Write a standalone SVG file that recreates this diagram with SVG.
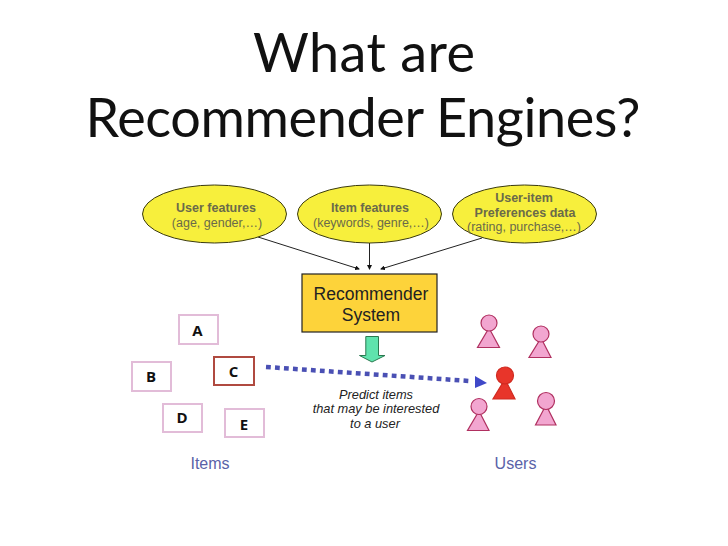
<svg xmlns="http://www.w3.org/2000/svg" width="728" height="546" viewBox="0 0 728 546">
<style>
.title{font:54px Lato,"Open Sans",sans-serif;fill:#111;text-anchor:middle}
.ell{fill:#f7ef3c;stroke:#3a3a10;stroke-width:1}
.h{font:bold 12.500px "Liberation Sans",Arial,sans-serif;fill:#6a6a4a;text-anchor:middle}
.s{font:12.500px "Liberation Sans",Arial,sans-serif;fill:#6a6a4a;text-anchor:middle}
.item{fill:#fff;stroke:#e2bcd8;stroke-width:2}
.l{font:bold 15px "Open Sans","DejaVu Sans",sans-serif;fill:#111;text-anchor:middle}
.p{fill:#f2a6d0;stroke:#b03060;stroke-width:1.200}
.r{fill:#e8352a;stroke:#d02a20;stroke-width:1.200}
.cap{font:16px "Liberation Sans",Arial,sans-serif;fill:#5a62a8;text-anchor:middle}
.pred{font:italic 12.800px "Liberation Sans",Arial,sans-serif;fill:#222;text-anchor:middle}
.c{stroke:#222;stroke-width:1;fill:none;marker-end:url(#a)}
.rs{font:17.500px "Liberation Sans",Arial,sans-serif;fill:#222;text-anchor:middle}
</style>
<defs><marker id="a" markerWidth="5" markerHeight="5" refX="4" refY="2.500" orient="auto" markerUnits="userSpaceOnUse"><path d="M0 0L5 2.500L0 5Z" fill="#111"/></marker></defs>
<rect width="728" height="546" fill="#fff"/>
<text class="title" x="364" y="72" textLength="222">What are</text>
<text class="title" x="363" y="137" textLength="555">Recommender Engines?</text>
<g id="connectors">
<path class="c" d="M258 237L359 269"/>
<path class="c" d="M369.500 243V269"/>
<path class="c" d="M482 238L381 269"/>
<path d="M266 367L470 381" fill="none" stroke="#4a50b4" stroke-width="4.500" stroke-dasharray="4.800 4.200"/>
<path d="M475 376L487 383L475 388Z" fill="#3f48c8"/>
</g>
<g id="user-features"><ellipse class="ell" cx="214.500" cy="214" rx="72" ry="29"/><text class="h" x="216" y="212">User features</text><text class="s" x="217" y="227">(age, gender,…)</text></g>
<g id="item-features"><ellipse class="ell" cx="369.500" cy="214" rx="72" ry="29"/><text class="h" x="370" y="212">Item features</text><text class="s" x="371" y="227">(keywords, genre,…)</text></g>
<g id="preferences"><ellipse class="ell" cx="524.500" cy="214" rx="72" ry="29"/><text class="h" x="524" y="202">User-item</text><text class="h" x="525" y="217">Preferences data</text><text class="s" x="524" y="231">(rating, purchase,…)</text></g>
<g id="recommender"><rect x="302" y="274" width="135" height="58" fill="#fdd33a" stroke="#222" stroke-width="1.200"/><text class="rs" x="371" y="300">Recommender</text><text class="rs" x="371" y="321">System</text></g>
<g id="green-arrow"><path d="M365.800 336.500H378.500V355.500H385L372 362L359.500 355.500H365.800Z" fill="#5fe3ad" stroke="#2a7a50" stroke-width="1"/></g>
<g id="item-a"><rect class="item" x="179" y="315" width="39" height="29"/><text class="l" x="197.500" y="336">A</text></g>
<g id="item-b"><rect class="item" x="132" y="362" width="39" height="29"/><text class="l" x="151" y="382">B</text></g>
<g id="item-c"><rect x="214" y="357" width="40" height="28" fill="#fff" stroke="#b04a40" stroke-width="2"/><text class="l" x="233.500" y="377">C</text></g>
<g id="item-d"><rect class="item" x="163" y="404" width="39" height="28"/><text class="l" x="182" y="423">D</text></g>
<g id="item-e"><rect class="item" x="225" y="409" width="39" height="28"/><text class="l" x="244" y="430">E</text></g>
<g id="user-1"><path class="p" d="M489 328L499.500 347.500H477.500Z"/><circle class="p" cx="489" cy="323" r="8"/></g>
<g id="user-2"><path class="p" d="M541 338L551 357.500H529Z"/><circle class="p" cx="541" cy="334" r="8"/></g>
<g id="user-3"><path class="r" d="M505 379L515 399H493Z"/><circle class="r" cx="505" cy="375.500" r="8.500"/></g>
<g id="user-4"><path class="p" d="M479 411L489 430.500H467.500Z"/><circle class="p" cx="479" cy="406.500" r="8"/></g>
<g id="user-5"><path class="p" d="M546 405L556 425H535.500Z"/><circle class="p" cx="546" cy="401" r="8.500"/></g>
<g id="labels"><text class="pred" x="376" y="399">Predict items</text><text class="pred" x="376" y="413">that may be interested</text><text class="pred" x="375" y="428">to a user</text><text class="cap" x="210" y="469">Items</text><text class="cap" x="515.500" y="469">Users</text></g>
</svg>
